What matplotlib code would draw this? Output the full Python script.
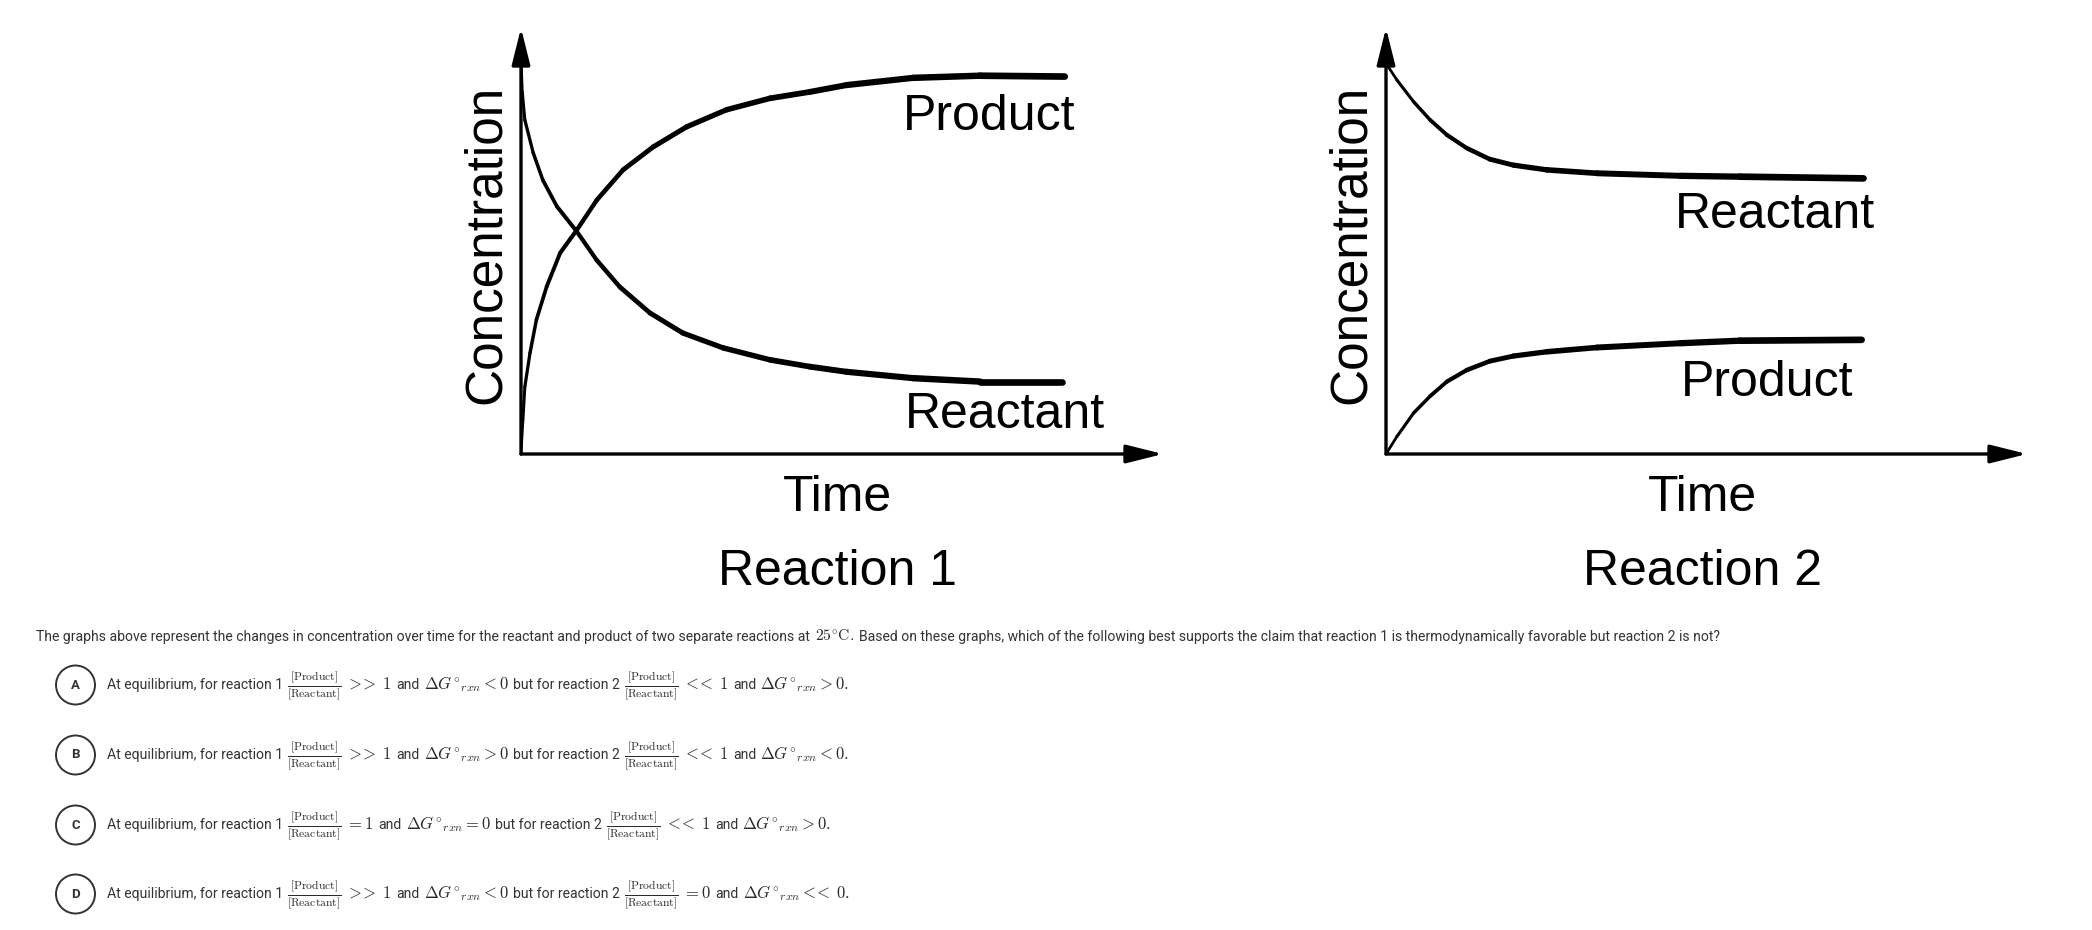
import numpy as np
import matplotlib
matplotlib.use("Agg")
import matplotlib.pyplot as plt
from matplotlib.collections import LineCollection
from matplotlib.patches import Circle

plt.rcParams['mathtext.fontset'] = 'cm'

# Reaction 1 curves (time 0..10, concentration 0..10)
r1_prod_t = [0.0, 0.03, 0.06, 0.14, 0.24, 0.40, 0.61, 0.87, 1.18, 1.59, 2.06, 2.58, 3.20, 3.88,
             4.50, 5.07, 6.11, 7.15, 8.47]
r1_prod_c = [0.0, 0.80, 1.58, 2.37, 3.15, 3.93, 4.72, 5.26, 5.96, 6.67, 7.21, 7.68, 8.08, 8.35,
             8.50, 8.66, 8.83, 8.88, 8.86]
r1_reac_t = [0.0, 0.02, 0.06, 0.19, 0.34, 0.56, 0.87, 1.18, 1.54, 2.01, 2.52, 3.15, 3.88, 4.50,
             5.07, 6.11, 7.15, 8.42]
r1_reac_c = [9.30, 8.50, 7.84, 7.07, 6.43, 5.81, 5.22, 4.55, 3.92, 3.31, 2.84, 2.49, 2.21, 2.05,
             1.93, 1.78, 1.70, 1.70]

# Reaction 2 curves
r2_reac_t = [0.0, 0.17, 0.43, 0.69, 0.95, 1.26, 1.62, 1.99, 2.51, 3.29, 4.59, 5.52, 7.45]
r2_reac_c = [9.17, 8.78, 8.27, 7.84, 7.49, 7.18, 6.92, 6.78, 6.67, 6.59, 6.53, 6.51, 6.47]
r2_prod_t = [0.0, 0.17, 0.43, 0.69, 0.95, 1.26, 1.62, 1.99, 2.51, 3.29, 4.59, 5.52, 7.42]
r2_prod_c = [0.0, 0.41, 0.96, 1.36, 1.70, 1.97, 2.18, 2.30, 2.40, 2.50, 2.60, 2.66, 2.68]

q_before = ("The graphs above represent the changes in concentration over time for the reactant and "
            "product of two separate reactions at")
q_temp = r"$25^{\circ}\mathrm{C}.$"
q_after = ("Based on these graphs, which of the following best supports the claim that reaction 1 "
           "is thermodynamically favorable but reaction 2 is not?")

option_letters = ["A", "B", "C", "D"]
ratio1 = [r">\!\!>\;1", r">\!\!>\;1", r"= 1", r">\!\!>\;1"]
dg1 = [r"< 0", r"> 0", r"= 0", r"< 0"]
ratio2 = [r"<\!\!<\;1", r"<\!\!<\;1", r"<\!\!<\;1", r"= 0"]
dg2 = [r"> 0.", r"< 0.", r"> 0.", r"<\!\!<\;0."]

FRAC = r"$\frac{\mathrm{[Product]}}{\mathrm{[Reactant]}}$"
DG = r"\Delta G^{\circ}{}_{rxn} "

W, H = 2092, 930
fig = plt.figure(figsize=(W / 100, H / 100), dpi=100)
fig.patch.set_facecolor('white')
renderer = fig.canvas.get_renderer()

LABEL_FONT = ['Liberation Sans', 'DejaVu Sans']
TXT = dict(fontsize=10.05, family=['Roboto', 'DejaVu Sans'], color='#333333')
MATH = dict(fontsize=12, color='#2a2a2a')
QMATH = dict(fontsize=11.3, color='#2a2a2a')


def tapered(ax, t, c):
    pts = np.column_stack([t, c])
    segs = np.stack([pts[:-1], pts[1:]], axis=1)
    widths = np.linspace(2.0, 4.8, len(segs))
    lc = LineCollection(segs, linewidths=widths, colors='black', capstyle='round', joinstyle='round')
    ax.add_collection(lc)


def px(x, y):
    return x / W, 1 - y / H


def make_chart(x0, y0, width_px, height_px, curves, labels, title):
    ax = fig.add_axes([x0 / W, (H - y0) / H, width_px / W, height_px / H])
    ax.set_xlim(0, 10)
    ax.set_ylim(0, 10)
    ax.axis('off')
    for t, c in curves:
        tapered(ax, t, c)
    arrow = dict(arrowstyle='-|>,head_length=1.4,head_width=0.35', lw=2.4, color='black',
                 shrinkA=0, shrinkB=0, mutation_scale=16)
    ax.annotate('', xy=(1, 0), xytext=(0, 0), xycoords='axes fraction', arrowprops=arrow)
    ax.annotate('', xy=(0, 1), xytext=(0, 0), xycoords='axes fraction', arrowprops=arrow)
    for txt, x, y in labels:
        ax.text(x, y, txt, fontsize=36, family=LABEL_FONT, ha='center', va='baseline')
    cx = x0 + width_px * 0.493
    fig.text(*px(cx, 511), "Time", fontsize=36, family=LABEL_FONT, ha='center', va='baseline')
    fig.text(*px(cx, 585), title, fontsize=36, family=LABEL_FONT, ha='center', va='baseline')
    fig.text(*px(x0 - 21, 244), "Concentration", fontsize=37, family=LABEL_FONT,
             rotation=90, rotation_mode='anchor', ha='center', va='baseline')
    return ax


make_chart(521, 454, 642, 426,
           [(r1_prod_t, r1_prod_c), (r1_reac_t, r1_reac_c)],
           [("Product", 7.29, 7.61), ("Reactant", 7.54, 0.61)],
           "Reaction 1")
make_chart(1386, 454, 641, 426,
           [(r2_reac_t, r2_reac_c), (r2_prod_t, r2_prod_c)],
           [("Reactant", 6.07, 5.30), ("Product", 5.95, 1.36)],
           "Reaction 2")


def draw_pieces(x, y, pieces, gap=5.0):
    for s, style in pieces:
        t = fig.text(*px(x, y), s, ha='left', va='baseline', **style)
        bb = t.get_window_extent(renderer)
        x = bb.x1 + gap


# question text
draw_pieces(36, 641, [(q_before, TXT), (q_temp, QMATH), (q_after, TXT)])

# answer options
opt_base = [689, 759, 829, 898]
for i, letter in enumerate(option_letters):
    y = opt_base[i]
    circ = Circle((75.5 / 100, (H - y + 4) / 100), 19.5 / 100, transform=fig.dpi_scale_trans,
                  fill=False, edgecolor='#333333', lw=1.4)
    fig.patches.append(circ)
    fig.text(*px(75.5, y - 4), letter, fontsize=9.5, fontweight='bold',
             family=['Roboto', 'DejaVu Sans'], color='#333333', ha='center', va='center')
    pieces = [
        ("At equilibrium, for reaction 1", TXT),
        (FRAC, MATH),
        ("$" + ratio1[i] + "$", MATH),
        ("and", TXT),
        ("$" + DG + dg1[i] + "$", MATH),
        ("but for reaction 2", TXT),
        (FRAC, MATH),
        ("$" + ratio2[i] + "$", MATH),
        ("and", TXT),
        ("$" + DG + dg2[i] + "$", MATH),
    ]
    draw_pieces(107, y, pieces, gap=4.2)

fig.savefig("out.png", dpi=100, facecolor='white')
